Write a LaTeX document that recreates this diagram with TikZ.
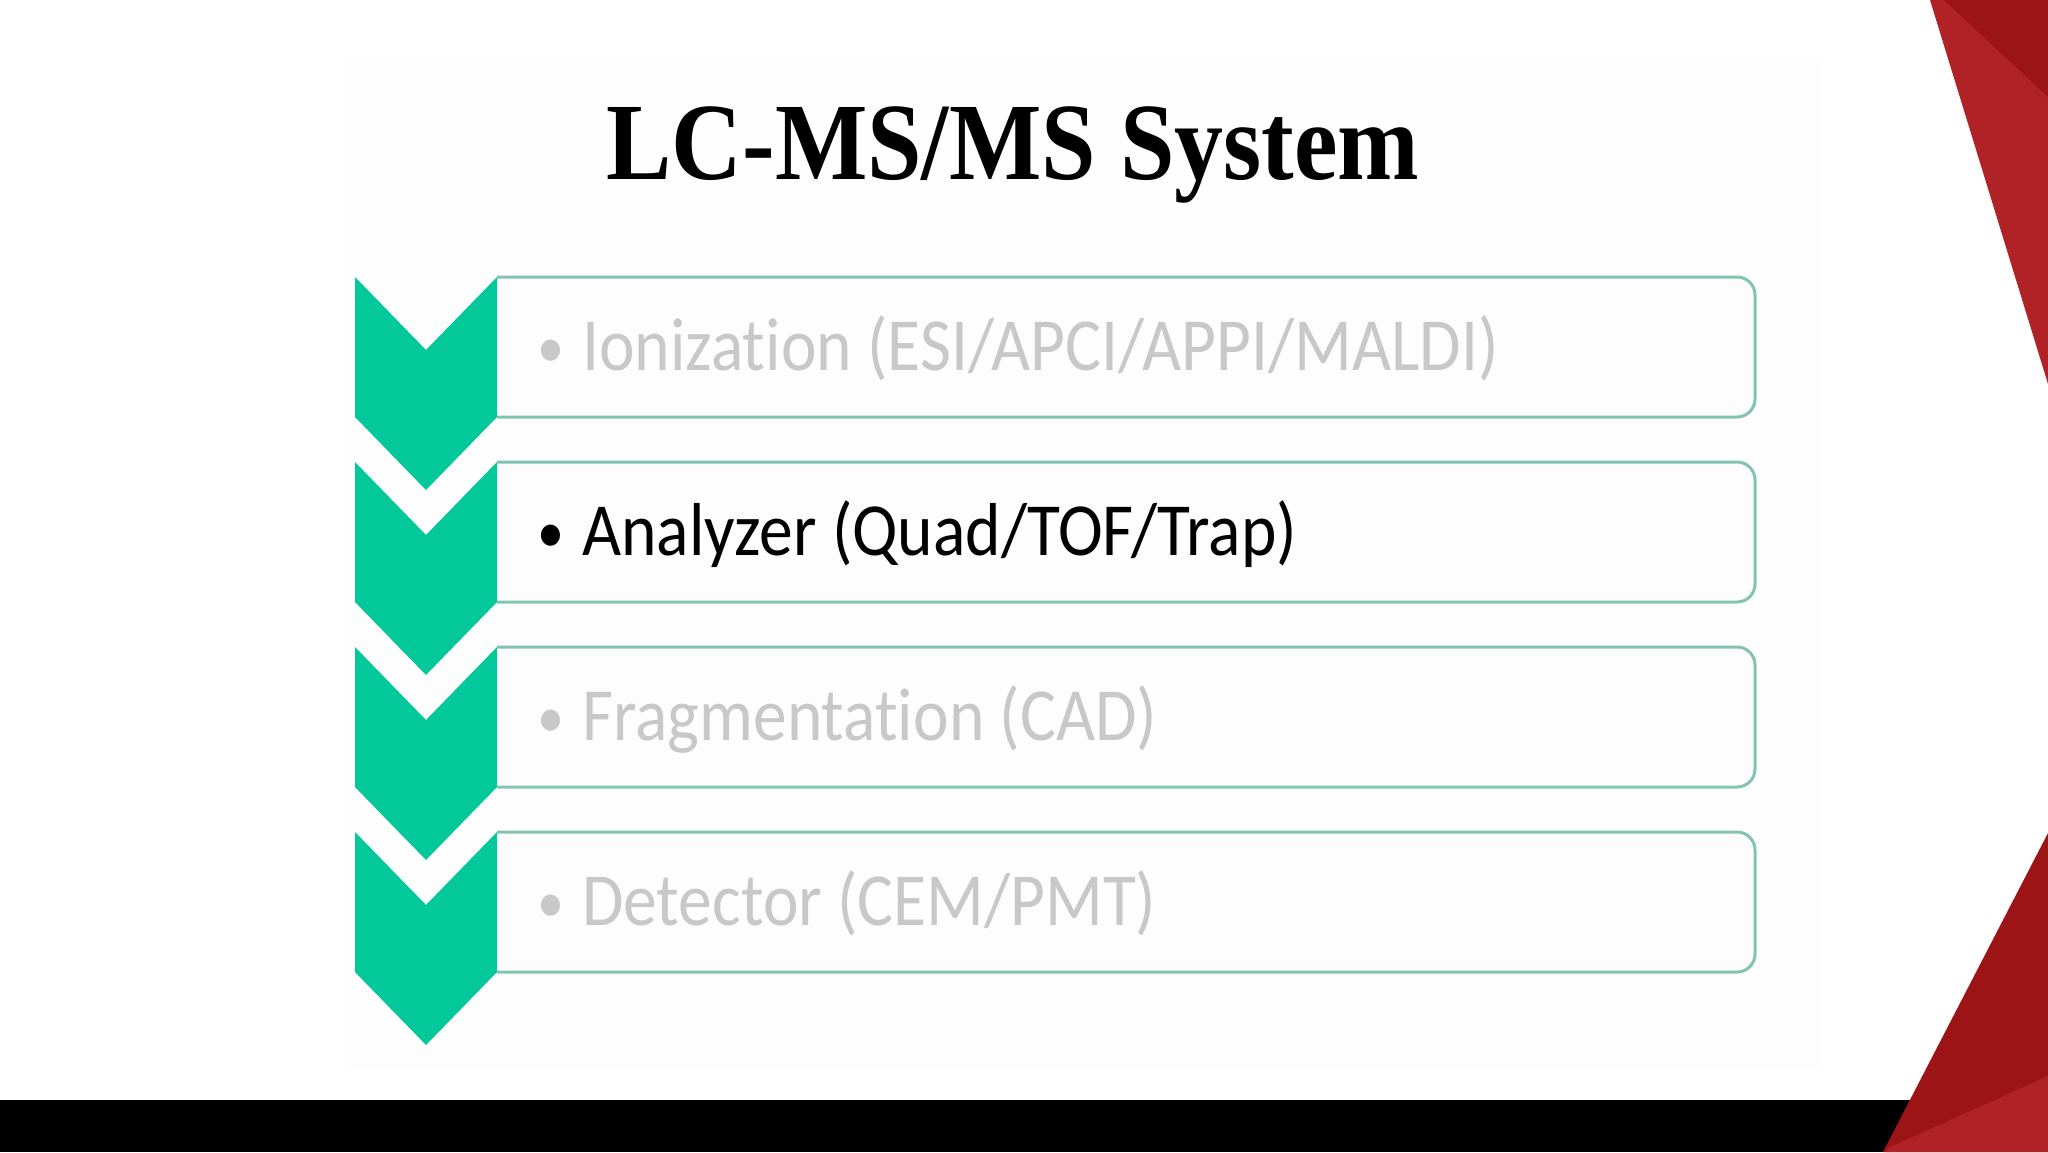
\documentclass[tikz,border=0pt]{standalone}
\usepackage{fontspec}
\usepackage{graphicx}
\setmainfont{Liberation Serif}
\newfontfamily\bodyfont[RawFeature={-liga;-dlig;-clig}]{Carlito}
\definecolor{chev}{HTML}{03C99A}
\definecolor{boxline}{HTML}{82C4B2}
\definecolor{boxfill}{HTML}{FEFDFE}
\definecolor{dim}{HTML}{C8C8C8}
\definecolor{redA}{HTML}{B02226}
\definecolor{redB}{HTML}{9C1416}
\definecolor{panel}{HTML}{FEFEFE}
\tikzset{
  chevshape/.style={fill=chev, draw=none},
  stagebox/.style={draw=boxline, line width=3pt, fill=boxfill, rounded corners=18pt},
  stagetext/.style={anchor=base west, inner sep=0pt, font=\bodyfont\fontsize{75}{80}\selectfont},
}
\newcommand{\stagelabel}[1]{\scalebox{0.9}[1]{\makebox[50pt][l]{\raisebox{3pt}{\scalebox{0.8}{\textbullet}}}#1}}
\begin{document}
\begin{tikzpicture}[x=1pt,y=-1pt]
\useasboundingbox (0,0) rectangle (2048,1152);
\fill[white] (0,0) rectangle (2048,1152);
\fill[panel] (345,60) rectangle (1822,1070);
% title
\node[anchor=base, inner sep=0pt, font=\bfseries\fontsize{110}{120}\selectfont] (title) at (1013,179) {\scalebox{0.89}[1]{LC-MS/MS System}};
% stages
\foreach \i/\txt/\col in {0/{Ionization (ESI/APCI/APPI/MALDI)}/dim, 1/{Analyzer (Quad/TOF/Trap)}/black, 2/{Fragmentation (CAD)}/dim, 3/{Detector (CEM/PMT)}/dim}{
  \pgfmathsetmacro{\T}{277+185*\i}
  \path[stagebox] (497,\T) -- (1755,\T) -- (1755,\T+140) -- (497,\T+140);
  \fill[chevshape] (355,\T) -- (426,\T+73) -- (497,\T) -- (497,\T+140) -- (426,\T+213) -- (355,\T+140) -- cycle;
  \node[stagetext, text=\col] (stage\i) at (537,\T+93) {\stagelabel{\txt}};
}
% black bar
\fill[black] (0,1100) rectangle (2048,1152);
% red corners
\fill[redA] (1930,0) -- (2048,0) -- (2048,384) -- cycle;
\fill[redB] (1944,0) -- (2048,0) -- (2048,97) -- cycle;
\fill[redB] (2048,833) -- (1883,1152) -- (2048,1152) -- cycle;
\fill[redA] (1888,1148) -- (2048,1076) -- (2048,1152) -- (1886,1152) -- cycle;
\end{tikzpicture}
\end{document}
